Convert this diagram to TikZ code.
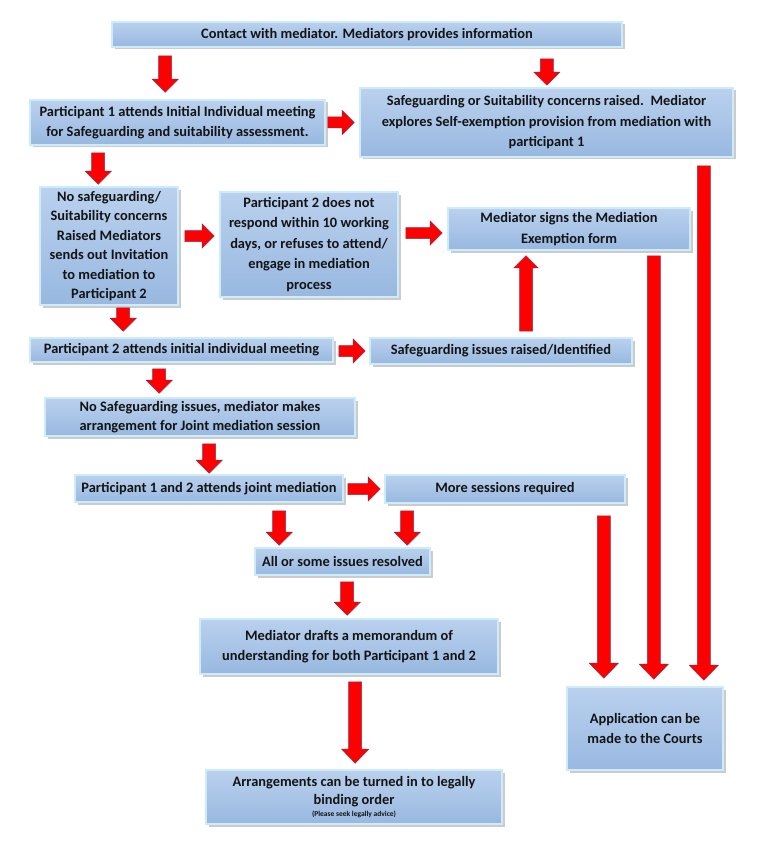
\documentclass[tikz,border=0pt]{standalone}
\usepackage{fontspec}
\setmainfont{Carlito}
\usetikzlibrary{calc,shadows}
\definecolor{boxtop}{HTML}{BAD1EE}
\definecolor{boxbot}{HTML}{98B8E0}
\definecolor{boxedge}{HTML}{CDEBF8}
\definecolor{arrowedge}{HTML}{8A2E50}
\definecolor{arrowred}{HTML}{FF0000}
\definecolor{txt}{HTML}{141414}
\def\bsw{6.5pt}\def\bhw{13pt}\def\bhl{13pt}
\tikzset{
  box/.style={rectangle, top color=boxtop, bottom color=boxbot, draw=boxedge,
    line width=1.6pt,
    drop shadow={shadow xshift=2.5pt, shadow yshift=-2.5pt, fill=black!45, opacity=0.45},
    align=center, inner sep=2pt, font=\fontsize{14.4}{20.5}\selectfont\bfseries, text=txt},
  bsize/.code args={#1/#2/#3}{\def\bsw{#1}\def\bhw{#2}\def\bhl{#3}},
  barrow/.style={fill=arrowred, draw=arrowedge, line width=0.5pt, line join=miter,
    to path={let \p1=(\tikztostart), \p2=(\tikztotarget),
      \n1={atan2(\y2-\y1,\x2-\x1)}, \n2={veclen(\x2-\x1,\y2-\y1)} in
      [shift={(\p1)}, rotate=\n1]
      (0pt,-\bsw) -- (\n2*1pt-\bhl,-\bsw) -- (\n2*1pt-\bhl,-\bhw) -- (\n2*1pt,0pt)
      -- (\n2*1pt-\bhl,\bhw) -- (\n2*1pt-\bhl,\bsw) -- (0pt,\bsw) -- cycle}},
  harrow/.style={barrow, bsize=5.5pt/12pt/12pt},
  longarrow/.style={barrow, bsize=6.5pt/14.5pt/15pt},
}
\begin{document}
\begin{tikzpicture}[x=1pt,y=-1pt]
\useasboundingbox (0,0) rectangle (768,853);
% boxes
\node[box, minimum width=510pt, minimum height=25pt] (top) at (367,34.5)
  {Contact with mediator. Mediators provides information};
\node[box, minimum width=295pt, minimum height=45pt] (p1) at (177.5,122.5)
  {Participant 1 attends Initial Individual meeting\\for Safeguarding and suitability assessment.};
\node[box, minimum width=373pt, minimum height=69pt] (safe) at (546.5,122.5)
  {Safeguarding or Suitability concerns raised.\ \ Mediator\\explores Self-exemption provision from mediation with\\participant 1};
\node[box, minimum width=138pt, minimum height=118pt, font=\fontsize{14.4}{19.5}\selectfont\bfseries] (nosafe) at (109,246)
  {No safeguarding/\\Suitability concerns\\Raised Mediators\\sends out Invitation\\to mediation to\\Participant 2};
\node[box, minimum width=178pt, minimum height=105pt] (p2no) at (309,244.5)
  {Participant 2 does not\\respond within 10 working\\days, or refuses to attend/\\engage in mediation\\process};
\node[box, minimum width=242pt, minimum height=42pt] (signs) at (569,229)
  {Mediator signs the Mediation\\Exemption form};
\node[box, minimum width=303pt, minimum height=24pt] (p2att) at (181.5,350)
  {Participant 2 attends initial individual meeting};
\node[box, minimum width=262pt, minimum height=26pt] (sgissues) at (501,351)
  {Safeguarding issues raised/Identified};
\node[box, minimum width=310pt, minimum height=38pt, font=\fontsize{14.4}{19}\selectfont\bfseries] (nosg) at (200,417)
  {No Safeguarding issues, mediator makes\\arrangement for Joint mediation session};
\node[box, minimum width=268pt, minimum height=27pt] (joint) at (209,488.5)
  {Participant 1 and 2 attends joint mediation};
\node[box, minimum width=240pt, minimum height=28pt] (more) at (505,489)
  {More sessions required};
\node[box, minimum width=175pt, minimum height=27pt] (resolved) at (342.5,561.5)
  {All or some issues resolved};
\node[box, minimum width=298pt, minimum height=55pt] (memo) at (349,646.5)
  {Mediator drafts a memorandum of\\understanding for both Participant 1 and 2};
\node[box, minimum width=296pt, minimum height=54pt, font=\fontsize{14.4}{18}\selectfont\bfseries] (arr) at (354,797)
  {Arrangements can be turned in to legally\\binding order\\[-6pt]{\fontsize{7.5}{9}\selectfont(Please seek legally advice)}};
\node[box, minimum width=156pt, minimum height=83pt, font=\fontsize{14.4}{19.5}\selectfont\bfseries] (app) at (645,728.5)
  {Application can be\\made to the Courts};
% arrow start points
\coordinate (s1) at ($(top.south west)+(54,8)$);
\coordinate (s2) at ($(top.south east)+(-76,11)$);
\coordinate (s3) at ($(p1.east)+(2,0)$);
\coordinate (s4) at ($(p1.south west)+(69,7)$);
\coordinate (s5) at ($(nosafe.east)+(6,-10)$);
\coordinate (s6) at ($(p2no.east)+(7,-11.5)$);
\coordinate (s7) at ($(sgissues.north)+(25,-6)$);
\coordinate (s8) at ($(signs.south east)+(-37,5)$);
\coordinate (s9) at ($(safe.south east)+(-30,8)$);
\coordinate (s10) at ($(more.south east)+(-22,12)$);
\coordinate (s11) at ($(nosafe.south west)+(84,2)$);
\coordinate (s12) at ($(p2att.east)+(5,1)$);
\coordinate (s13) at ($(p2att.south west)+(130,6)$);
\coordinate (s14) at ($(nosg.south west)+(165,7)$);
\coordinate (s15) at ($(joint.east)+(4,0.5)$);
\coordinate (s16) at ($(joint.south west)+(205,8)$);
\coordinate (s17) at ($(more.south west)+(23,7)$);
\coordinate (s18) at ($(resolved.south west)+(93,6)$);
\coordinate (s19) at ($(memo.south west)+(156,7)$);
% arrows
\draw[barrow] (s1) to ($(s1 |- p1.north)+(0,-7)$);
\draw[barrow] (s2) to ($(s2 |- safe.north)+(0,-2)$);
\draw[harrow] (s3) to ($(s3 -| safe.west)+(-5,0)$);
\draw[barrow] (s4) to ($(s4 |- nosafe.north)+(0,-2)$);
\draw[harrow] (s5) to ($(s5 -| p2no.west)+(-5,0)$);
\draw[harrow] (s6) to ($(s6 -| signs.west)+(-5,0)$);
\draw[barrow, bsize=6.5pt/12pt/12pt] (s7) to ($(s7 |- signs.south)+(0,5)$);
\draw[longarrow] (s8) to ($(s8 |- app.north)+(0,-7)$);
\draw[longarrow] (s9) to ($(s9 |- app.north)+(0,-6)$);
\draw[longarrow] (s10) to ($(s10 |- app.north)+(0,-8)$);
\draw[barrow] (s11) to ($(s11 |- p2att.north)+(0,-6)$);
\draw[harrow] (s12) to ($(s12 -| sgissues.west)+(-4,0)$);
\draw[barrow] (s13) to ($(s13 |- nosg.north)+(0,-4)$);
\draw[barrow] (s14) to ($(s14 |- joint.north)+(0,-1)$);
\draw[harrow] (s15) to ($(s15 -| more.west)+(-4,0)$);
\draw[barrow] (s16) to ($(s16 |- resolved.north)+(0,-2)$);
\draw[barrow] (s17) to ($(s17 |- resolved.north)+(0,-2)$);
\draw[barrow] (s18) to ($(s18 |- memo.north)+(0,-3)$);
\draw[longarrow, bsize=6.5pt/13.5pt/14pt] (s19) to ($(s19 |- arr.north)+(0,-6)$);
\end{tikzpicture}
\end{document}
